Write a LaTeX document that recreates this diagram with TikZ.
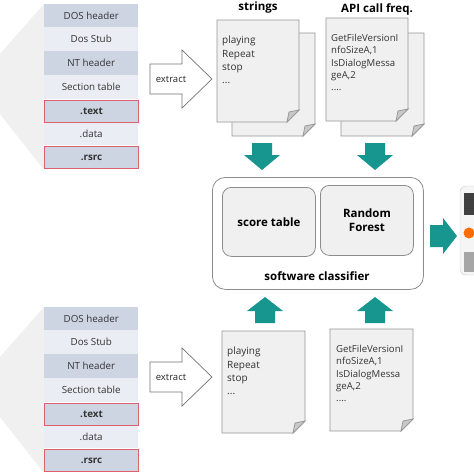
\documentclass[tikz,border=0pt]{standalone}
\usepackage{fontspec}
\setmainfont{Open Sans}
\usetikzlibrary{positioning}
\definecolor{teal1}{RGB}{22,150,143}
\definecolor{rowdark}{RGB}{205,213,227}
\definecolor{rowlight}{RGB}{234,237,243}
\definecolor{redb}{RGB}{222,96,110}
\definecolor{docfill}{RGB}{240,240,240}
\definecolor{docline}{RGB}{150,150,150}
\definecolor{foldfill}{RGB}{200,200,200}
\definecolor{boxline}{RGB}{140,140,140}
\definecolor{fanfill}{RGB}{240,240,240}
\tikzset{
  rowbase/.style={minimum width=94pt, inner sep=0pt, anchor=north west, font=\fontsize{9.8}{11}\selectfont, text=black!80},
  rowd/.style={rowbase, fill=rowdark},
  rowl/.style={rowbase, fill=rowlight},
  rowr/.style={rowbase, fill=rowdark, draw=redb, line width=1pt, font=\fontsize{9.8}{11}\selectfont\bfseries},
  doctext/.style={anchor=north west, align=left, inner sep=0pt, font=\fontsize{10}{13.3}\selectfont, text=black!80},
  apitext/.style={anchor=north west, align=left, inner sep=0pt, font=\fontsize{9.6}{12.3}\selectfont, text=black!80},
  title/.style={font=\fontsize{11.5}{13}\selectfont\bfseries},
  inbox/.style={draw=boxline, fill=docfill, rounded corners=9pt, line width=0.8pt, font=\fontsize{11.5}{14}\selectfont\bfseries, align=center},
  teal arrow/.style={fill=teal1, draw=none},
  white arrow/.style={fill=white, draw=black!55, line width=0.7pt},
}
\newcommand{\docpg}[4]{% x1 y1 x2 y2
  \filldraw[fill=docfill, draw=docline, line width=0.7pt]
    (#1,#2) -- (#3,#2) -- (#3,#4-12) -- (#3-12,#4) -- (#1,#4) -- cycle;
  \filldraw[fill=foldfill, draw=docline, line width=0.7pt]
    (#3,#4-12) -- (#3-12,#4) -- (#3-10,#4-10) -- cycle;
}
\newcommand{\pefile}[2]{% prefix, top y
  \fill[fanfill] (44,#2) -- (0,#2+50) -- (0,#2+110) -- (44,#2+166) -- cycle;
  \node[rowd, minimum height=23pt] (#1dos) at (44,#2) {DOS header};
  \node[rowl, minimum height=24pt] (#1stub) at (44,#2+23) {Dos Stub};
  \node[rowd, minimum height=24pt] (#1nt) at (44,#2+47) {NT header};
  \node[rowl, minimum height=24pt] (#1sec) at (44,#2+71) {Section table};
  \node[rowr, minimum height=22pt] (#1text) at (44,#2+96) {.text};
  \node[rowl, minimum height=22pt] (#1data) at (44,#2+119) {.data};
  \node[rowr, minimum height=22pt] (#1rsrc) at (44,#2+142) {.rsrc};
}
\newcommand{\extractarrow}[2]{% prefix, center y
  \filldraw[white arrow] (150,#2-15) -- (182,#2-15) -- (182,#2-29) -- (212,#2) -- (182,#2+29) -- (182,#2+15) -- (150,#2+15) -- cycle;
  \node[font=\fontsize{9.5}{11}\selectfont, text=black!85] (#1ext) at (171,#2) {extract};
}
\begin{document}
\begin{tikzpicture}[x=1pt,y=-1pt]
\useasboundingbox (0,0) rectangle (474,474);
\fill[white] (0,0) rectangle (474,474);

% PE files
\pefile{t}{4}
\pefile{b}{307}

% extract arrows
\extractarrow{t}{79}
\extractarrow{b}{377}

% top strings documents
\docpg{232}{33}{315}{136}
\docpg{217}{20}{299}{122}
\node[title] (strtitle) at (258,8) {strings};
\node[doctext] (strtop) at (222,36) {playing\\Repeat\\stop\\...};

% top API documents
\docpg{341}{33}{424}{136}
\docpg{326}{18}{408}{121}
\node[title] (apititle) at (377,9) {API call freq.};
\node[apitext] (apitop) at (331,34) {GetFileVersionI\\nfoSizeA,1\\IsDialogMessa\\geA,2\\....};

% bottom documents
\docpg{222}{331}{305}{433}
\node[doctext] (strbot) at (227,347) {playing\\Repeat\\stop\\...};
\docpg{330}{329}{413}{431}
\node[apitext] (apibot) at (336,345) {GetFileVersionI\\nfoSizeA,1\\IsDialogMessa\\geA,2\\....};

% classifier
\node[draw=boxline, fill=white, rounded corners=13pt, line width=0.8pt, minimum width=211pt, minimum height=112pt, inner sep=0pt, anchor=north west] (clf) at (212,177) {};
\node[inbox, minimum width=93pt, minimum height=69pt, anchor=north west] (score) at (222,187) {score table};
\node[inbox, minimum width=93pt, minimum height=70pt, anchor=north west] (rf) at (320,185) {Random\\Forest};
\node[font=\fontsize{11.5}{13}\selectfont\bfseries] (clflabel) at (317,276) {software classifier};

% teal down arrows
\foreach \cx in {262,375}{
  \fill[teal arrow] (\cx-10,143) -- (\cx+10,143) -- (\cx+10,155) -- (\cx+18,155) -- (\cx,170) -- (\cx-18,155) -- (\cx-10,155) -- cycle;
}
% teal up arrows
\foreach \cx in {265,375}{
  \fill[teal arrow] (\cx-10,323) -- (\cx+10,323) -- (\cx+10,311) -- (\cx+18,311) -- (\cx,297) -- (\cx-18,311) -- (\cx-10,311) -- cycle;
}
% right teal arrow
\fill[teal arrow] (430,225) -- (443,225) -- (443,218) -- (457,236) -- (443,254) -- (443,247) -- (430,247) -- cycle;

% partial picture at right edge
\begin{scope}
\clip (455,180) rectangle (474,280);
\filldraw[fill=black!4, draw=black!20, rounded corners=6pt] (460,186) rectangle (490,275);
\fill[black!75] (464,193) rectangle (476,215);
\fill[orange!85!red] (469,233) circle (5.5);
\fill[black!35] (464,252) rectangle (476,272);
\end{scope}
\end{tikzpicture}
\end{document}
